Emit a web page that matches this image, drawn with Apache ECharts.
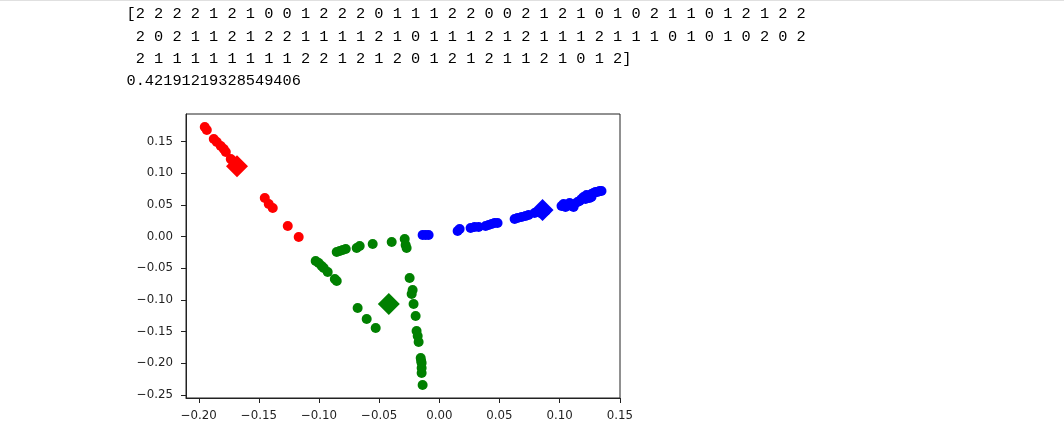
<!DOCTYPE html>
<html>
<head>
<meta charset="utf-8">
<script src="https://cdn.jsdelivr.net/npm/echarts@6/dist/echarts.min.js"></script>
<style>
html,body{margin:0;padding:0;background:#fff;}
#chart{width:1064px;height:430px;}
</style>
</head>
<body>
<div id="chart"></div>
<script>
// ---- printed output ----
const clusterLabels = [
 2,2,2,2,1,2,1,0,0,1,2,2,2,0,1,1,1,2,2,0,0,2,1,2,1,0,1,0,2,1,1,0,1,2,1,2,2,
 2,0,2,1,1,2,1,2,2,1,1,1,1,2,1,0,1,1,1,2,1,2,1,1,1,2,1,1,1,0,1,0,1,0,2,0,2,
 2,1,1,1,1,1,1,1,1,2,2,1,2,1,2,0,1,2,1,2,1,1,2,1,0,1,2
];
const scoreText = '0.42191219328549406';

// ---- scatter data (x, y) ----
const redPts = [
 [-0.1950,0.1732],[-0.1933,0.1685],[-0.1875,0.1543],[-0.1850,0.1495],[-0.1817,0.1432],
 [-0.1792,0.1385],[-0.1775,0.1337],[-0.1734,0.1227],[-0.1717,0.1195],[-0.1701,0.1148],
 [-0.1692,0.1101],[-0.1451,0.0611],[-0.1418,0.0516],[-0.1385,0.0453],[-0.1260,0.0169],
 [-0.1169,-0.0005]
];
const greenPts = [
 [-0.1028,-0.0384],[-0.1003,-0.0415],[-0.0978,-0.0463],[-0.0961,-0.0494],[-0.0928,-0.0557],
 [-0.0869,-0.0669],[-0.0853,-0.0700],[-0.0853,-0.0242],[-0.0828,-0.0226],[-0.0803,-0.0210],
 [-0.0778,-0.0194],[-0.0687,-0.0178],[-0.0662,-0.0147],[-0.0554,-0.0115],[-0.0396,-0.0084],
 [-0.0288,-0.0036],[-0.0280,-0.0131],[-0.0272,-0.0178],[-0.0679,-0.1126],[-0.0604,-0.1300],
 [-0.0529,-0.1442],[-0.0247,-0.0652],[-0.0222,-0.0842],[-0.0230,-0.0905],[-0.0214,-0.1063],
 [-0.0197,-0.1252],[-0.0189,-0.1489],[-0.0180,-0.1568],[-0.0172,-0.1663],[-0.0155,-0.1915],
 [-0.0151,-0.1963],[-0.0147,-0.1994],[-0.0147,-0.2073],[-0.0147,-0.2152],[-0.0139,-0.2342]
];
const bluePts = [
 [-0.0139,0.0027],[-0.0114,0.0027],[-0.0089,0.0027],[0.0152,0.0090],[0.0169,0.0122],
 [0.0260,0.0137],[0.0293,0.0153],[0.0327,0.0153],[0.0385,0.0169],[0.0410,0.0185],
 [0.0435,0.0201],[0.0459,0.0216],[0.0484,0.0216],[0.0626,0.0279],[0.0650,0.0295],
 [0.0684,0.0311],[0.0717,0.0327],[0.0742,0.0343],[0.0792,0.0374],[0.0817,0.0390],
 [0.0842,0.0374],[0.0883,0.0406],[0.1016,0.0485],[0.1033,0.0516],[0.1049,0.0469],
 [0.1066,0.0501],[0.1083,0.0532],[0.1099,0.0485],[0.1116,0.0469],[0.1124,0.0516],
 [0.1149,0.0548],[0.1166,0.0564],[0.1182,0.0595],[0.1199,0.0627],[0.1215,0.0595],
 [0.1224,0.0658],[0.1240,0.0643],[0.1249,0.0611],[0.1265,0.0674],[0.1265,0.0627],
 [0.1282,0.0690],[0.1298,0.0706],[0.1315,0.0706],[0.1332,0.0722],[0.1348,0.0722]
];
const centerRed = [[-0.1682,0.1114]];
const centerGreen = [[-0.0420,-0.1063]];
const centerBlue = [[0.0858,0.0422]];

const xTicks = [-0.20,-0.15,-0.10,-0.05,0.00,0.05,0.10,0.15];
const yTicks = [-0.25,-0.20,-0.15,-0.10,-0.05,0.00,0.05,0.10,0.15];

// build printed lines
const perLine = 37;
const lines = [];
for (let i = 0; i < clusterLabels.length; i += perLine) {
  const chunk = clusterLabels.slice(i, i + perLine);
  let s = (i === 0 ? '[' : ' ') + chunk.join(' ');
  if (i + perLine >= clusterLabels.length) s += ']';
  lines.push(s);
}
lines.push(scoreText);
const lineY = [14, 37, 59, 81];

const graphics = [{
  type: 'rect', shape: {x: 0, y: 0, width: 1064, height: 1},
  style: {fill: '#e0e0e0'}, silent: true
}];
lines.forEach((t, i) => {
  graphics.push({
    type: 'text', x: 126.5, y: lineY[i], silent: true,
    style: {
      text: t, fill: '#000', fontFamily: 'Liberation Mono', fontSize: 15.3,
      align: 'left', verticalAlign: 'middle', textAlign: 'left', textVerticalAlign: 'middle'
    }
  });
});

const fmt = v => (Math.abs(v) < 1e-9 ? 0 : v).toFixed(2).replace('-', '\u2212');
const axisCommon = {
  type: 'value',
  axisLine: {show: true, onZero: false, lineStyle: {color: '#222', width: 1}},
  axisTick: {show: true, inside: false, length: 5, lineStyle: {color: '#222', width: 1}},
  splitLine: {show: false},
  axisLabel: {
    color: '#222', fontFamily: 'DejaVu Sans', fontSize: 11.8,
    formatter: fmt, showMinLabel: true, showMaxLabel: true, hideOverlap: false
  }
};

const chart = echarts.init(document.getElementById('chart'), null, {renderer: 'canvas'});
chart.setOption({
  animation: false,
  backgroundColor: '#fff',
  graphic: graphics,
  grid: {left: 186, top: 114, width: 434, height: 284, show: true,
         borderColor: '#222', borderWidth: 1, backgroundColor: 'transparent'},
  xAxis: Object.assign({}, axisCommon, {
    min: -0.2106, max: 0.1502,
    axisTick: Object.assign({}, axisCommon.axisTick, {customValues: xTicks}),
    axisLabel: Object.assign({}, axisCommon.axisLabel, {customValues: xTicks, margin: 12})
  }),
  yAxis: Object.assign({}, axisCommon, {
    min: -0.2547, max: 0.1937,
    axisTick: Object.assign({}, axisCommon.axisTick, {customValues: yTicks}),
    axisLabel: Object.assign({}, axisCommon.axisLabel, {customValues: yTicks, margin: 13})
  }),
  series: [
    {type: 'scatter', data: redPts, symbol: 'circle', symbolSize: 10, itemStyle: {color: '#ff0000', opacity: 1}},
    {type: 'scatter', data: greenPts, symbol: 'circle', symbolSize: 10, itemStyle: {color: '#008000', opacity: 1}},
    {type: 'scatter', data: bluePts, symbol: 'circle', symbolSize: 10, itemStyle: {color: '#0000ff', opacity: 1}},
    {type: 'scatter', data: centerRed, symbol: 'diamond', symbolSize: 22, itemStyle: {color: '#ff0000', opacity: 1}},
    {type: 'scatter', data: centerGreen, symbol: 'diamond', symbolSize: 22, itemStyle: {color: '#008000', opacity: 1}},
    {type: 'scatter', data: centerBlue, symbol: 'diamond', symbolSize: 22, itemStyle: {color: '#0000ff', opacity: 1}}
  ]
});
</script>
</body>
</html>
